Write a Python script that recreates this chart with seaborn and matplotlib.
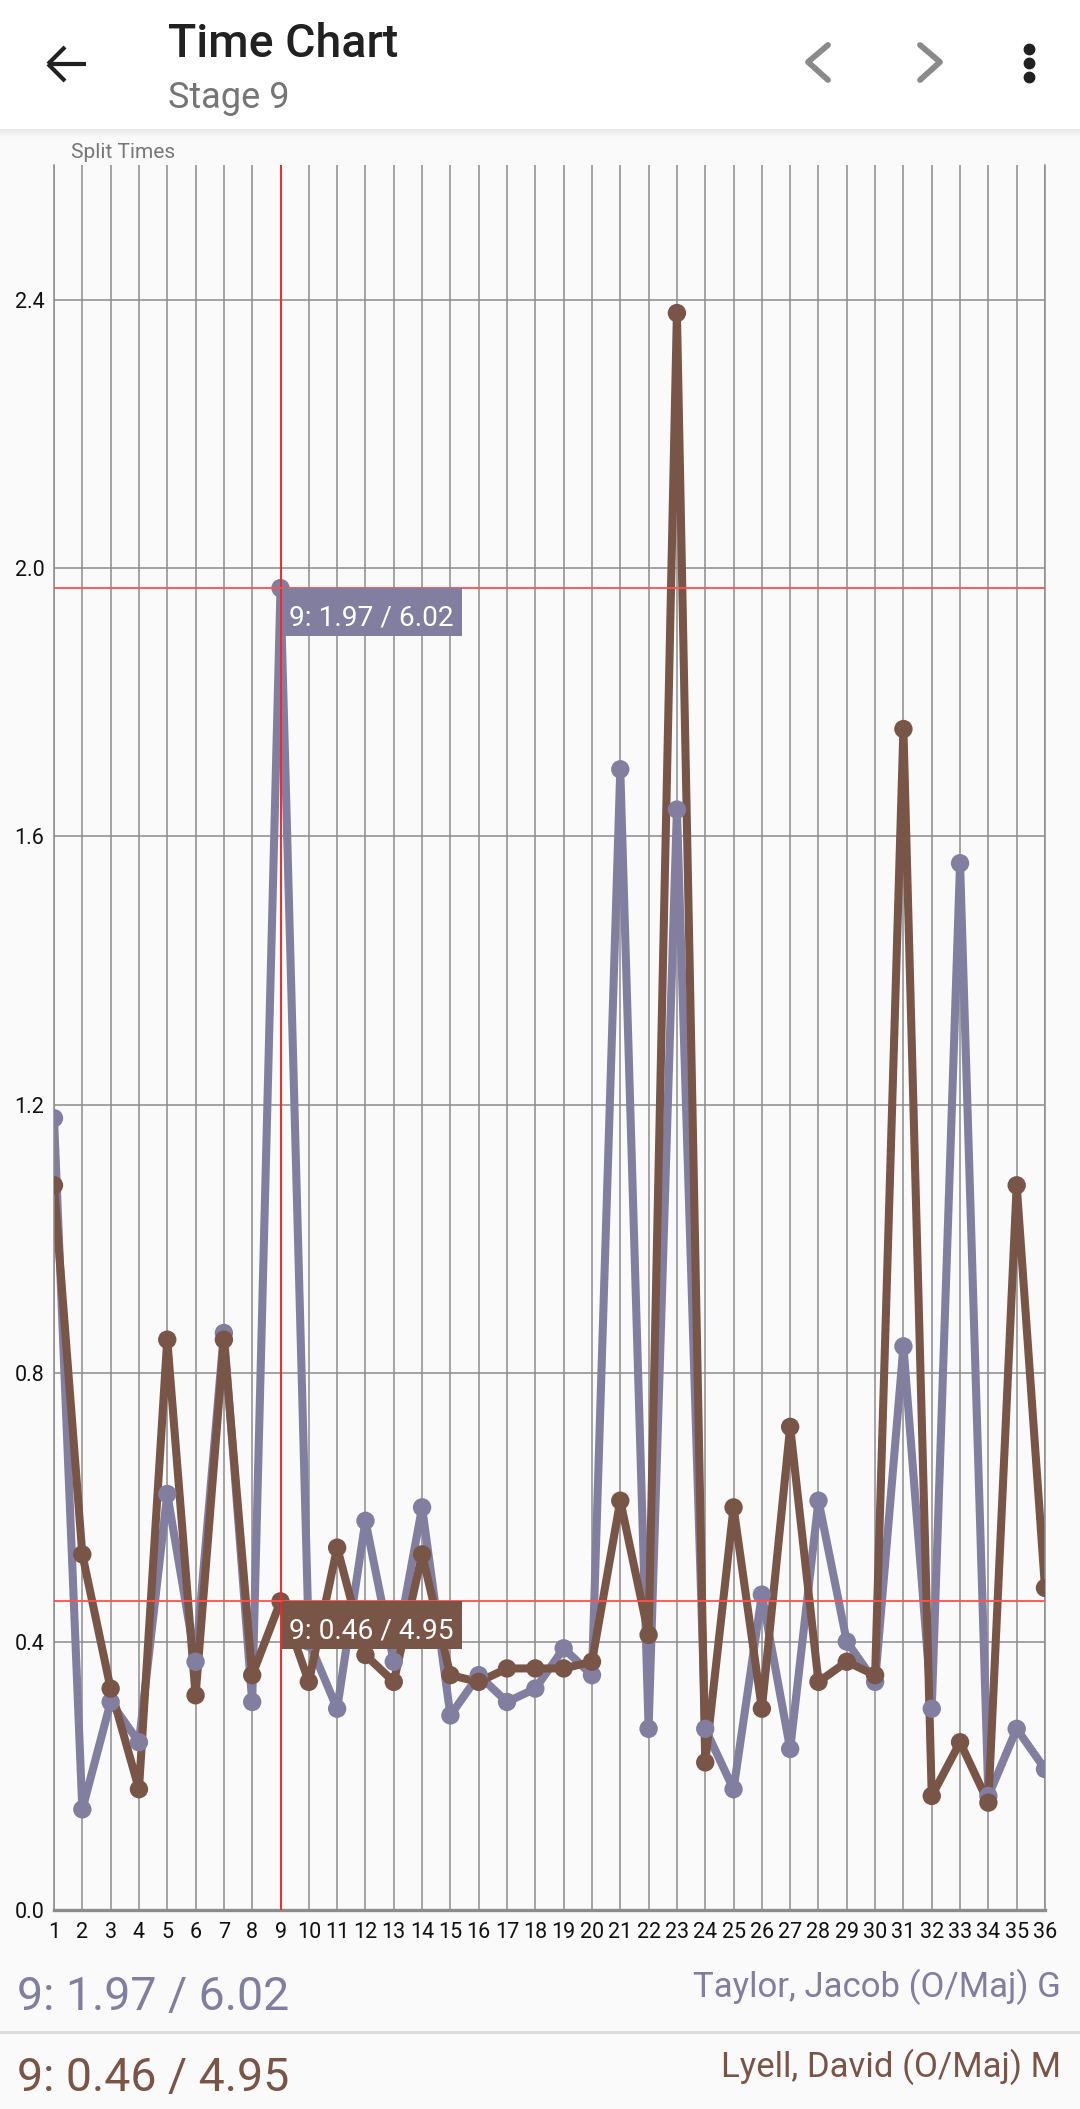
import numpy as np
import pandas as pd
import matplotlib
matplotlib.use("Agg")
import matplotlib.pyplot as plt
from matplotlib.patches import Rectangle
from matplotlib.lines import Line2D
import seaborn as sns

# ------------------------------
# Data (split times for stage 9)
splits = list(range(1, 37))
taylor = [1.18, 0.15, 0.31, 0.25, 0.62, 0.37, 0.86, 0.31, 1.97, 0.40,
          0.30, 0.58, 0.37, 0.60, 0.29, 0.35, 0.31, 0.33, 0.39, 0.35,
          1.70, 0.27, 1.64, 0.27, 0.18, 0.47, 0.24, 0.61, 0.40, 0.34,
          0.84, 0.30, 1.56, 0.17, 0.27, 0.21]
lyell = [1.08, 0.53, 0.33, 0.18, 0.85, 0.32, 0.85, 0.35, 0.46, 0.34,
         0.54, 0.38, 0.34, 0.53, 0.35, 0.34, 0.36, 0.36, 0.36, 0.37,
         0.61, 0.41, 2.38, 0.22, 0.60, 0.30, 0.72, 0.34, 0.37, 0.35,
         1.76, 0.17, 0.25, 0.16, 1.08, 0.48]
runners = ["Taylor, Jacob (O/Maj) G", "Lyell, David (O/Maj) M"]
yticks = [0.0, 0.4, 0.8, 1.2, 1.6, 2.0, 2.4]
sel_split = 9
sel_taylor = "9: 1.97 / 6.02"
sel_lyell = "9: 0.46 / 4.95"

blue = "#827E9F"
brown = "#795548"
palette = {runners[0]: blue, runners[1]: brown}

df = pd.DataFrame({
    "split": splits * 2,
    "time": taylor + lyell,
    "runner": [runners[0]] * len(splits) + [runners[1]] * len(splits),
})

# ------------------------------
sns.set_style("white")
plt.rcParams["font.family"] = ["Roboto", "DejaVu Sans"]

W, H = 1080, 2109
fig = plt.figure(figsize=(W / 100, H / 100), dpi=100)
fig.patch.set_facecolor("#FAFAFA")


def fx(x):
    return x / W


def fy(y):
    return 1 - y / H


# App bar
fig.add_artist(Rectangle((0, fy(129)), 1, 129 / H, transform=fig.transFigure,
                         fc="white", ec="none", zorder=1))
for i in range(8):
    fig.add_artist(Rectangle((0, fy(130 + i)), 1, 1 / H, transform=fig.transFigure,
                             fc="black", ec="none", alpha=0.07 * (1 - i / 8), zorder=1))
fig.text(fx(168), fy(57), "Time Chart", fontsize=33.5, fontweight="medium",
         color="#212121", va="baseline", ha="left")
fig.text(fx(168), fy(108), "Stage 9", fontsize=26, color="#757575",
         va="baseline", ha="left")

# back arrow
for xs, ys in [((48, 86), (64, 64)), ((48, 65), (64, 47)), ((48, 65), (64, 81))]:
    fig.add_artist(Line2D([fx(v) for v in xs], [fy(v) for v in ys],
                          transform=fig.transFigure, color="#212121", lw=3,
                          solid_capstyle="butt"))
# chevrons
fig.add_artist(Line2D([fx(828), fx(808), fx(828)], [fy(45), fy(62), fy(80)],
                      transform=fig.transFigure, color="#8A8A8A", lw=4.2))
fig.add_artist(Line2D([fx(920), fx(940), fx(920)], [fy(45), fy(62), fy(80)],
                      transform=fig.transFigure, color="#8A8A8A", lw=4.2))
# overflow dots
fig.add_artist(Line2D([fx(1029)] * 3, [fy(49), fy(63), fy(77)], lw=0,
                      marker="o", markersize=7.5, color="#212121",
                      transform=fig.transFigure))

# ------------------------------
# Chart
ymax = 2.6
px_per_unit = 671
y0 = 1910
top_px = y0 - ymax * px_per_unit
ax = fig.add_axes([fx(54), fy(y0), (1045 - 54) / W, (y0 - top_px) / H])
ax.set_facecolor("#FAFAFA")

sns.lineplot(data=df, x="split", y="time", hue="runner", hue_order=runners,
             palette=palette, linewidth=5.8, legend=False, ax=ax,
             estimator=None, sort=False, zorder=2)
sns.scatterplot(data=df, x="split", y="time", hue="runner", hue_order=runners,
                palette=palette, s=175, linewidth=0, legend=False, ax=ax, zorder=3)

ax.set_xlim(1, 36)
ax.set_ylim(0, ymax)
ax.set_xticks(splits)
ax.set_xticklabels([str(s) for s in splits])
ax.set_yticks(yticks)
ax.set_yticklabels([f"{v:.1f}" for v in yticks])
ax.set_xlabel("")
ax.set_ylabel("")
ax.grid(True, color="#8C8C8C", lw=1.1, zorder=0)
ax.set_axisbelow(True)
ax.spines["top"].set_visible(False)
for side in ("left", "right"):
    ax.spines[side].set_color("#8C8C8C")
    ax.spines[side].set_linewidth(1.1)
ax.spines["bottom"].set_color("#8C8C8C")
ax.spines["bottom"].set_linewidth(2.4)
ax.tick_params(axis="both", length=0, labelsize=15.5, colors="#111111")
ax.tick_params(axis="y", pad=7)
ax.tick_params(axis="x", pad=9)

# highlight crosshair
ax.axvline(sel_split, color="#FF2020", lw=1.3, zorder=4)
ax.axhline(taylor[sel_split - 1], color="#FF5050", lw=1.3, zorder=4)
ax.axhline(lyell[sel_split - 1], color="#FF5050", lw=1.3, zorder=4)

# tooltip boxes (pixel positions taken from the data transform)
for val, label, col in [(taylor[sel_split - 1], sel_taylor, blue),
                        (lyell[sel_split - 1], sel_lyell, brown)]:
    px, py = ax.transData.transform((sel_split, val))
    fig.add_artist(Rectangle((fx(px + 1), (py - 48) / H), 180 / W, 48 / H,
                             transform=fig.transFigure, fc=col, ec="none", zorder=6))
    fig.text(fx(px + 8), (py - 37) / H, label, fontsize=20.2, color="white",
             ha="left", va="baseline", zorder=7)

fig.text(fx(71), fy(153), "Split Times", fontsize=15, color="#777777",
         va="center", ha="left")

# ------------------------------
# Bottom info rows
fig.text(fx(17), fy(2010), sel_taylor, fontsize=33.5, color=blue,
         ha="left", va="baseline")
fig.text(fx(1061), fy(1997), runners[0], fontsize=25, color=blue,
         ha="right", va="baseline")
fig.add_artist(Rectangle((0, fy(2034)), 1, 3 / H, transform=fig.transFigure,
                         fc="#DDDDDD", ec="none"))
fig.text(fx(17), fy(2091), sel_lyell, fontsize=33.5, color=brown,
         ha="left", va="baseline")
fig.text(fx(1061), fy(2077), runners[1], fontsize=25, color=brown,
         ha="right", va="baseline")

fig.savefig("out.png", dpi=100, facecolor=fig.get_facecolor())
